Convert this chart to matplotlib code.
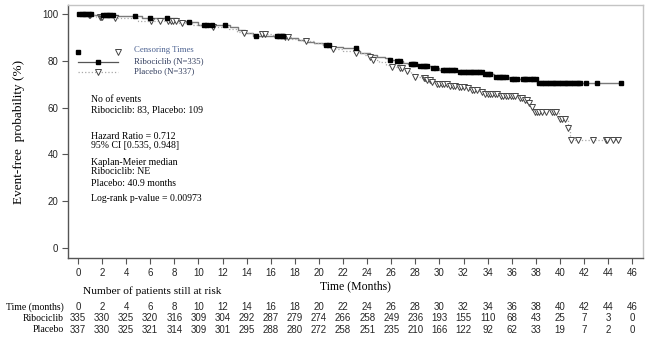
import numpy as np
import matplotlib
matplotlib.use("Agg")
import matplotlib.pyplot as plt
from matplotlib.transforms import blended_transform_factory

#--------------------------------------------------------
# Kaplan-Meier step data (time in months, event-free %)

ribStepTimes = [0, 1.2, 3.3, 5.3, 8.2, 9.0, 10.0, 12.6, 13.3, 13.9, 14.5, 17.5, 18.3,
                18.9, 19.6, 20.3, 21.0, 22.0, 23.2, 23.4, 24.2, 24.8, 25.5, 25.9, 26.4,
                27.0, 27.4, 28.2, 29.3, 30.0, 31.5, 33.6, 34.5, 35.8, 38.1]
ribStepSurv = [100, 99.6, 99.1, 98.4, 97.0, 96.5, 95.3, 94.5, 93.3, 92.0, 90.7, 89.7, 88.9,
               88.2, 87.5, 86.8, 86.0, 85.3, 84.3, 83.2, 82.5, 81.8, 81.0, 80.3, 79.9,
               79.2, 78.5, 77.8, 77.1, 76.1, 75.1, 74.2, 73.2, 72.1, 70.4]
ribEnd = 45.1

ribCensor = [0.1, 0.3, 0.5, 0.7, 0.9, 1.1, 2.1, 2.3, 2.5, 2.7, 2.9, 4.7, 6.0, 7.4, 9.2,
             10.5, 10.7, 11.1, 12.2, 14.8, 16.5, 16.7, 16.9, 17.0, 20.6, 20.8, 23.1, 25.9,
             26.5, 26.7, 27.6, 27.8, 28.0, 28.4, 28.6, 28.8, 29.0, 29.5, 29.7, 30.3, 30.5,
             30.7, 30.9, 31.1, 31.3, 31.7, 31.9, 32.1, 32.3, 32.5, 32.7, 32.9, 33.1, 33.3,
             33.5, 33.8, 34.0, 34.2, 34.7, 34.9, 35.1, 35.3, 35.5, 36.0, 36.2, 36.4, 36.9,
             37.1, 37.3, 37.6, 37.8, 38.0, 38.3, 38.5, 38.7, 38.9, 39.1, 39.3, 39.5, 39.7,
             39.9, 40.1, 40.3, 40.5, 40.7, 40.9, 41.1, 41.3, 41.5, 41.7, 42.2, 43.1, 45.1]

plaStepTimes = [0, 0.5, 1.5, 2.8, 5.0, 8.4, 9.5, 10.5, 12.5, 13.2, 13.6, 14.6, 16.2, 17.8,
                18.5, 19.6, 20.3, 20.9, 22.0, 22.9, 23.8, 24.2, 24.45, 25.0, 25.6, 26.0,
                26.6, 27.1, 27.6, 27.9, 28.5, 28.9, 29.3, 29.6, 30.8, 31.5, 32.2, 32.6,
                33.3, 33.7, 35.0, 36.5, 36.9, 37.3, 37.6, 37.75, 39.95, 40.65, 40.85]
plaStepSurv = [100, 99.6, 98.9, 98.2, 97.0, 96.0, 95.2, 94.3, 93.6, 92.5, 92.0, 91.3, 90.3,
               89.4, 88.6, 87.5, 86.3, 85.0, 84.1, 83.2, 82.5, 81.8, 80.3, 79.3, 78.4, 77.5,
               76.8, 75.6, 74.4, 73.2, 72.5, 71.8, 71.1, 70.0, 69.4, 68.9, 68.2, 67.5,
               66.8, 65.7, 65.0, 64.0, 63.2, 61.8, 60.4, 58.0, 55.1, 51.1, 46.2]
plaEnd = 44.8

plaCensor = [0.9, 1.0, 1.8, 1.9, 2.0, 3.1, 6.1, 6.8, 7.5, 7.7, 7.9, 8.1, 8.6, 11.2, 13.8,
             15.3, 15.5, 17.2, 17.4, 18.9, 21.15, 23.1, 24.25, 24.5, 26.05, 26.7, 26.9, 27.3,
             28.0, 28.7, 28.8, 29.0, 29.2, 29.4, 29.8, 30.0, 30.2, 30.4, 30.6, 30.9, 31.1,
             31.3, 31.6, 31.8, 32.0, 32.4, 32.7, 32.9, 33.1, 33.5, 33.8, 34.0, 34.2, 34.4,
             34.6, 34.8, 35.1, 35.3, 35.5, 35.7, 35.9, 36.1, 36.3, 36.7, 36.85, 37.1, 37.25,
             37.45, 37.7, 37.9, 38.1, 38.3, 38.5, 38.8, 39.3, 39.5, 39.7, 40.0, 40.2, 40.4,
             40.65, 40.9, 41.5, 42.7, 43.8, 43.9, 44.4, 44.8]

# number at risk table
riskTimes = list(range(0, 47, 2))
riskRib = [335, 330, 325, 320, 316, 309, 304, 292, 287, 279, 274, 266, 258, 249, 236,
           193, 155, 110, 68, 43, 25, 7, 3, 0]
riskPla = [337, 330, 325, 321, 314, 309, 301, 295, 288, 280, 272, 258, 251, 235, 210,
           166, 122, 92, 62, 33, 19, 7, 2, 0]

annotLines = ["No of events", "Ribociclib: 83, Placebo: 109",
              "Hazard Ratio = 0.712", "95% CI [0.535, 0.948]",
              "Kaplan-Meier median", "Ribociclib: NE", "Placebo: 40.9 months",
              "Log-rank p-value = 0.00973"]
annotY = [0.628, 0.585, 0.482, 0.443, 0.379, 0.340, 0.296, 0.237]

#--------------------------------------------------------

def km_value(stepTimes, stepSurv, t):
    idx = np.searchsorted(stepTimes, t, side="right") - 1
    return np.asarray(stepSurv)[idx]

#--------------------------------------------------------

serif = "Liberation Serif"
sans = "Liberation Sans"
numColor = "#262626"

fig = plt.figure(figsize=(6.47, 3.39), dpi=100)
ax = fig.add_axes([0.105, 0.239, 0.889, 0.746])

# curves
ax.step(ribStepTimes + [ribEnd], ribStepSurv + [ribStepSurv[-1]], where="post",
        color="#7a7a7a", lw=1.0, zorder=2)
ax.step(plaStepTimes + [plaEnd], plaStepSurv + [plaStepSurv[-1]], where="post",
        color="#a8a8a8", lw=0.9, ls=":", zorder=2)

# censoring marks
sqSize = 2.6
triSize = 3.8
ax.plot(ribCensor, km_value(ribStepTimes, ribStepSurv, ribCensor), ls="none",
        marker="s", ms=sqSize, color="black", zorder=4)
ax.plot(plaCensor, km_value(plaStepTimes, plaStepSurv, plaCensor), ls="none",
        marker="v", ms=triSize, mfc="white", mec="#444444", mew=0.7, zorder=3)

ax.set_xlim(-0.83, 46.9)
ax.set_ylim(-4.3, 103.8)
ax.set_xticks(riskTimes)
ax.set_yticks([0, 20, 40, 60, 80, 100])

for lab in ax.get_xticklabels() + ax.get_yticklabels():
    lab.set_fontfamily(sans)
    lab.set_fontsize(7)
    lab.set_color(numColor)
ax.tick_params(direction="out", length=4, width=0.8, color="#555555", pad=3)

for side in ["left", "bottom"]:
    ax.spines[side].set_color("#555555")
    ax.spines[side].set_linewidth(1.0)
for side in ["top", "right"]:
    ax.spines[side].set_color("#c4c4c4")
    ax.spines[side].set_linewidth(1.0)

ax.set_ylabel("Event-free  probability (%)", fontfamily=serif, fontsize=9.5, labelpad=12)
ax.set_xlabel("Time (Months)", fontfamily=serif, fontsize=8.5, labelpad=2)

# legend drawn by hand in axes coordinates
ta = ax.transAxes
ax.plot([0.0174], [0.814], transform=ta, marker="s", ms=sqSize, color="black", ls="none")
ax.plot([0.087], [0.814], transform=ta, marker="v", ms=triSize, mfc="white", mec="#444444",
        mew=0.7, ls="none")
ax.plot([0.0174, 0.087], [0.775, 0.775], transform=ta, color="#555555", lw=0.9)
ax.plot([0.052], [0.775], transform=ta, marker="s", ms=sqSize, color="black")
ax.plot([0.0174, 0.087], [0.735, 0.735], transform=ta, color="#a8a8a8", lw=0.9, ls=":")
ax.plot([0.052], [0.735], transform=ta, marker="v", ms=triSize, mfc="white", mec="#444444",
        mew=0.7)
ax.text(0.115, 0.822, "Censoring Times", transform=ta, fontfamily=serif, fontsize=6.3,
        color="#4a6090", va="center")
ax.text(0.115, 0.779, "Ribociclib (N=335)", transform=ta, fontfamily=serif, fontsize=6.3,
        color="#2f3b5c", va="center")
ax.text(0.115, 0.739, "Placebo (N=337)", transform=ta, fontfamily=serif, fontsize=6.3,
        color="#2f3b5c", va="center")

for txt, yy in zip(annotLines, annotY):
    ax.text(0.04, yy, txt, transform=ta, fontfamily=serif, fontsize=7, va="center")

# number at risk table
bt = blended_transform_factory(ax.transData, fig.transFigure)
fig.text(0.235, 0.141, "Number of patients still at risk", fontfamily=serif, fontsize=8.2,
         ha="center", va="center")
rows = [("Time (months)", riskTimes, 0.094),
        ("Ribociclib", riskRib, 0.061),
        ("Placebo", riskPla, 0.027)]
for name, vals, yy in rows:
    fig.text(0.099, yy, name, fontfamily=serif, fontsize=7, ha="right", va="center")
    for t, v in zip(riskTimes, vals):
        ax.text(t, yy, str(v), transform=bt, fontfamily=sans, fontsize=7,
                color=numColor, ha="center", va="center")

fig.savefig("out.png", dpi=100)
